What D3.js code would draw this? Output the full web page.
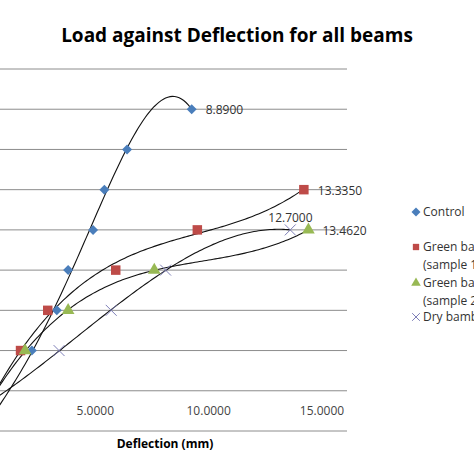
<!DOCTYPE html>
<html><head><meta charset="utf-8">
<script src="https://cdn.jsdelivr.net/npm/d3@7"></script>
<style>body{margin:0;background:#fff}svg{font-family:"Open Sans",Lato,sans-serif}</style>
</head><body><svg width="474" height="474"></svg>
<script>
// deflection (mm) vs load (grid units)
const control = [[0,0],[2.2,2],[3.3,3],[3.8,4],[4.9,5],[5.4,6],[6.4,7],[9.25,8]];
const green1 = [[0,0.3],[1.7,2],[2.9,3],[5.9,4],[9.5,5],[14.2,6]];
const green2 = [[0,0.4],[1.9,2],[3.8,3],[7.6,4],[14.4,5]];
const dry = [[0,0.6],[3.4,2],[5.7,3],[8.1,4],[13.6,5]];
const endLabels = ['8.8900', '13.3350', '13.4620', '12.7000'];
const names = ['Control', 'Green bamboo (sample 1)', 'Green bamboo (sample 2)', 'Dry bamboo'];
const xTicks = [5, 10, 15];

const svg = d3.select('svg');
const x = d3.scaleLinear().domain([0, 15]).range([-18, 322]);
const y = d3.scaleLinear().domain([0, 9]).range([431, 69]);

// least squares polynomial trendline
function polyfit(pts, n) {
  const m = n + 1;
  const A = d3.range(m).map(() => new Array(m + 1).fill(0));
  pts.forEach(([px, py]) => {
    for (let r = 0; r < m; r++) {
      for (let c = 0; c < m; c++) A[r][c] += Math.pow(px, r + c);
      A[r][m] += py * Math.pow(px, r);
    }
  });
  for (let i = 0; i < m; i++) {
    let p = i;
    for (let k = i + 1; k < m; k++) if (Math.abs(A[k][i]) > Math.abs(A[p][i])) p = k;
    [A[i], A[p]] = [A[p], A[i]];
    for (let k = 0; k < m; k++) if (k !== i) {
      const f = A[k][i] / A[i][i];
      for (let c = i; c <= m; c++) A[k][c] -= f * A[i][c];
    }
  }
  const co = A.map((row, i) => row[m] / row[i]);
  return v => co.reduce((s, c, i) => s + c * Math.pow(v, i), 0);
}

svg.append('text').attr('x', 237).attr('y', 42).attr('text-anchor', 'middle')
  .attr('font-size', 19).attr('font-weight', 'bold').text('Load against Deflection for all beams');

svg.selectAll('.grid').data(d3.range(0, 10)).enter().append('line')
  .attr('x1', 0).attr('x2', 347).attr('y1', d => y(d)).attr('y2', d => y(d))
  .attr('stroke', '#8c8c8c').attr('stroke-width', 1);

svg.selectAll('.xt').data(xTicks).enter().append('text')
  .attr('x', d => x(d)).attr('y', 415).attr('text-anchor', 'middle')
  .attr('font-size', 12).attr('fill', '#444').text(d => d.toFixed(4));
svg.append('text').attr('x', 165).attr('y', 448).attr('text-anchor', 'middle')
  .attr('font-size', 12).attr('font-weight', 'bold').text('Deflection (mm)');

const series = [control, green1, green2, dry];
const orders = [4, 3, 3, 3];
const line = d3.line().x(d => x(d[0])).y(d => y(d[1]));
series.forEach((s, i) => {
  const f = polyfit(s, orders[i]);
  const xs = d3.range(0, s[s.length - 1][0] + 0.001, 0.1);
  svg.append('path').attr('d', line(xs.map(v => [v, f(v)])))
    .attr('fill', 'none').attr('stroke', '#111').attr('stroke-width', 1.1);
});

const sym = [d3.symbolSquare, d3.symbolSquare, d3.symbolTriangle, d3.symbolX];
const rot = [45, 0, 0, 0];
const col = ['#4a7ebb', '#be4b48', '#98b954', '#7e7fb8'];
const size = [50, 90, 70, 80];
series.forEach((s, i) => {
  svg.selectAll('.m' + i).data(s.slice(1)).enter().append('path')
    .attr('transform', d => `translate(${x(d[0])},${y(d[1])}) rotate(${rot[i]})`)
    .attr('d', d3.symbol(sym[i], size[i]))
    .attr('fill', i === 3 ? 'none' : col[i]).attr('stroke', i === 3 ? col[i] : 'none');
  const last = s[s.length - 1];
  svg.append('text').attr('x', x(last[0]) + (i === 3 ? -22 : 14)).attr('y', y(last[1]) + (i === 3 ? -8 : 5))
    .attr('font-size', 12).attr('fill', '#333').text(endLabels[i]);
});

const legY = [212, 247, 283, 317];
names.forEach((n, i) => {
  svg.append('path').attr('transform', `translate(416,${legY[i]}) rotate(${rot[i]})`)
    .attr('d', d3.symbol(sym[i], 40))
    .attr('fill', i === 3 ? 'none' : col[i]).attr('stroke', i === 3 ? col[i] : 'none');
  const parts = i === 1 || i === 2 ? [n.split(' (')[0], '(' + n.split(' (')[1]] : [n];
  parts.forEach((p, j) => svg.append('text').attr('x', 423).attr('y', legY[i] + 4 + j * 18)
    .attr('font-size', 12).attr('fill', '#333').text(p));
});
</script></body></html>
